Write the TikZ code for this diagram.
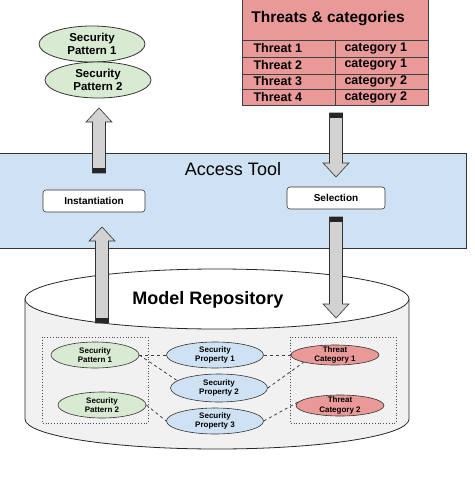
\documentclass[tikz,border=0pt]{standalone}
\usepackage{fontspec}
\setmainfont{Liberation Sans}
\usetikzlibrary{shapes.geometric,calc}
\definecolor{patgreen}{RGB}{217,234,211}
\definecolor{propblue}{RGB}{207,226,243}
\definecolor{threatred}{RGB}{234,153,153}
\definecolor{repogrey}{RGB}{241,241,241}
\definecolor{arrowgrey}{RGB}{210,210,210}
\newcommand{\fatarrow}[2]{%
  \coordinate (hb) at ($(#2)!14pt!(#1)$);
  \coordinate (tb) at ($(#1)!5pt!(#2)$);
  \filldraw[fill=arrowgrey,draw=black!80,semithick] ($(#1)!6.5pt!90:(#2)$) -- ($(hb)!6.5pt!-90:(#1)$)
    -- ($(hb)!13pt!-90:(#1)$) -- (#2) -- ($(hb)!13pt!90:(#1)$) -- ($(hb)!6.5pt!90:(#1)$)
    -- ($(#1)!6.5pt!-90:(#2)$) -- cycle;
  \fill[black!85] ($(#1)!6.5pt!90:(#2)$) -- ($(tb)!6.5pt!-90:(#1)$) -- ($(tb)!6.5pt!90:(#1)$)
    -- ($(#1)!6.5pt!-90:(#2)$) -- cycle;
}
\tikzset{
  bigpat/.style={ellipse,draw=black!80,thick,fill=patgreen,minimum width=106pt,minimum height=36pt,
    inner sep=0pt,align=center,font=\bfseries\fontsize{11.5}{13}\selectfont},
  smallell/.style={ellipse,draw=black!80,semithick,minimum width=88pt,minimum height=26pt,
    inner sep=0pt,align=center,font=\bfseries\fontsize{8}{9.5}\selectfont},
  tcat/.style={ellipse,draw=black!80,semithick,fill=threatred,minimum width=88pt,minimum height=20pt,inner sep=0pt},
  toolbox/.style={draw=black!80,semithick,rounded corners=3pt,fill=white,minimum height=22pt,
    font=\bfseries\fontsize{10}{12}\selectfont},
  rowtext/.style={anchor=west,font=\bfseries\fontsize{12.5}{14}\selectfont},
  link/.style={dashed,thick,black!75},
  group/.style={dotted,thick,black!70}
}
\begin{document}
\begin{tikzpicture}[x=1pt,y=1pt]
\useasboundingbox (0,0) rectangle (474,-478);
% threats table
\draw[fill=threatred,draw=black!75,semithick] (242,5) rectangle (428,-105);
\foreach \y in {-40,-57,-74,-89} \draw[black!75,thick] (242,\y) -- (428,\y);
\draw[black!75,semithick] (335,-40) -- (335,-105);
\node[font=\bfseries\fontsize{15.5}{18}\selectfont] (threats) at (328,-19) {Threats \& categories};
\foreach \n/\c/\y in {1/1/-48.5,2/1/-65,3/2/-81.5,4/2/-97}{
  \node[rowtext] (thr\n) at (250,\y) {Threat \n};
  \node[rowtext] (cat\n) at (341,\y) {category \c};
}
% access tool
\node[draw=black!80,semithick,fill=propblue,minimum width=467pt,minimum height=95pt,inner sep=0pt]
  (access) at (232.5,-200.5) {};
\node[font=\fontsize{18}{21}\selectfont] (accesstitle) at (233,-169) {Access Tool};
\node[toolbox,minimum width=102pt] (inst) at (94,-201) {Instantiation};
\node[toolbox,minimum width=98pt] (sel) at (336,-198) {Selection};
% model repository
\draw[fill=repogrey,draw=black!85,thick] (25,-299) -- (25,-419)
  arc[start angle=180,end angle=360,x radius=192,y radius=30] -- (409,-299) -- cycle;
\draw[fill=white,draw=black!85,thick] (217,-299) ellipse[x radius=192,y radius=30];
\node[font=\bfseries\fontsize{18}{21}\selectfont] (repo) at (208,-300) {Model Repository};
\draw[group] (42,-337) rectangle (148,-423);
\draw[group] (290,-337) rectangle (396,-423);
% block arrows
\coordinate (up1t) at (99,-173);  \coordinate (up1h) at (99,-108);
\coordinate (dn1t) at (336,-113); \coordinate (dn1h) at (336,-177);
\coordinate (up2t) at (102,-323); \coordinate (up2h) at (102,-227);
\coordinate (dn2t) at (336,-217); \coordinate (dn2h) at (336,-318);
\fatarrow{up1t}{up1h}
\fatarrow{dn1t}{dn1h}
\fatarrow{up2t}{up2h}
\fatarrow{dn2t}{dn2h}
% patterns on top
\node[bigpat] (pat1) at (92,-44) {Security\\Pattern 1};
\node[bigpat] (pat2) at (98,-80) {Security\\Pattern 2};
% repository contents
\node[smallell,fill=patgreen] (sp1) at (95,-355) {Security\\Pattern 1};
\node[smallell,fill=patgreen] (sp2) at (102,-405) {Security\\Pattern 2};
\node[smallell,fill=propblue,minimum width=97pt] (pr1) at (215,-355) {Security\\Property 1};
\node[smallell,fill=propblue,minimum width=97pt,minimum height=28pt] (pr2) at (219,-388) {Security\\Property 2};
\node[smallell,fill=propblue,minimum width=97pt] (pr3) at (215,-421) {Security\\Property 3};
\node[tcat,label={[font=\bfseries\fontsize{8}{9.5}\selectfont,align=center]center:Threat\\Category 1}] (tc1) at (335,-355) {};
\node[tcat,minimum height=21pt,label={[font=\bfseries\fontsize{8}{9.5}\selectfont,align=center]center:Threat\\Category 2}] (tc2) at (340,-405.5) {};
\draw[link] (sp1.east) -- (pr1.west);
\draw[link] (sp1.east) -- (pr2.170);
\draw[link] (sp2.east) -- (pr3.west);
\draw[link] (pr1.east) -- (tc1.west);
\draw[link] (pr2.east) -- (tc1.south west);
\draw[link] (pr3.east) -- (tc2.175);
\end{tikzpicture}
\end{document}
